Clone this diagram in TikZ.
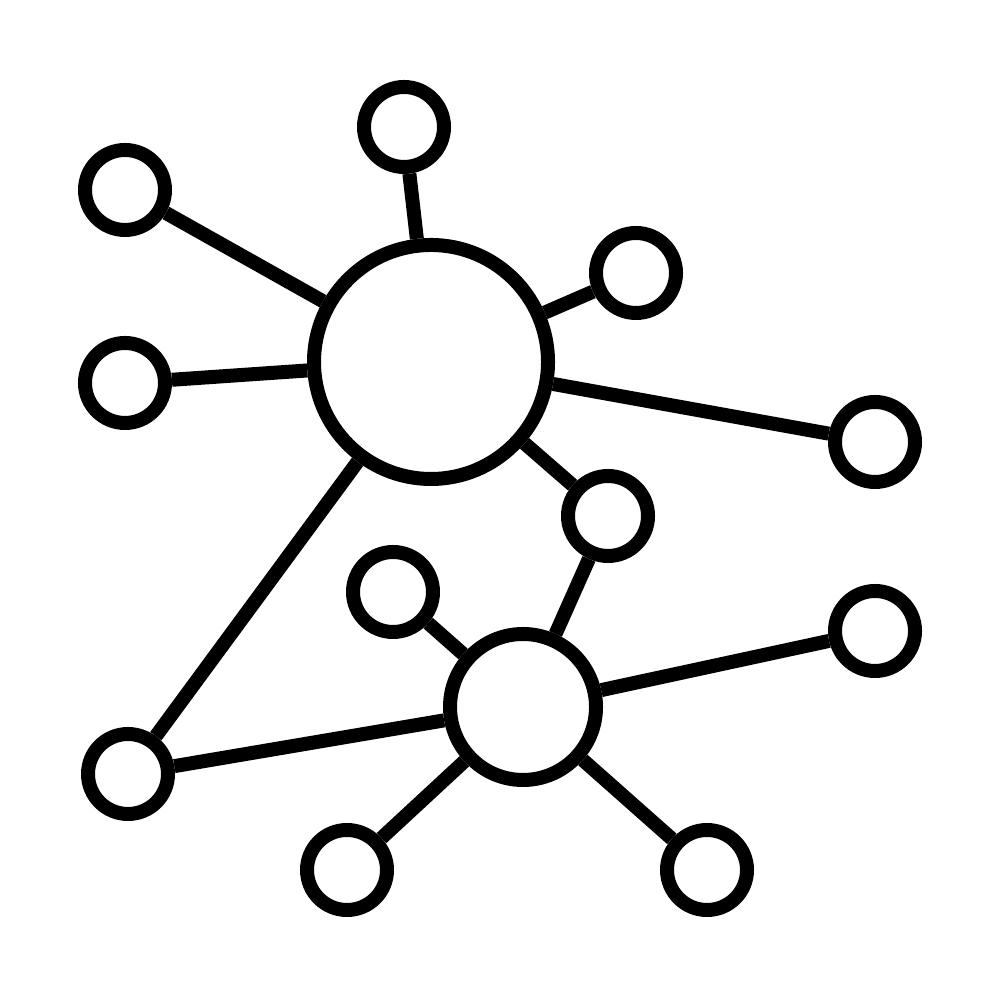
\documentclass[tikz,border=0pt]{standalone}
\usepackage{tikz}
\usetikzlibrary{positioning}

\begin{document}
\begin{tikzpicture}[line width=0.14cm,
  hub/.style={draw, circle, inner sep=0pt, minimum size=2.34cm},
  subhub/.style={draw, circle, inner sep=0pt, minimum size=1.46cm},
  leaf/.style={draw, circle, inner sep=0pt, minimum size=0.8cm}]

\useasboundingbox (0,0) rectangle (10,10);

\node[hub] (main) at (4.31,6.38) {};
\node[subhub] (sub) at (5.23,2.93) {};

\node[leaf] (top) at (4.04,8.73) {};
\node[leaf] (topleft) at (1.25,8.10) {};
\node[leaf] (left) at (1.25,6.17) {};
\node[leaf] (topright) at (6.36,7.27) {};
\node[leaf] (right) at (8.75,5.58) {};
\node[leaf] (mid) at (6.08,4.84) {};
\node[leaf] (lowright) at (8.75,3.69) {};
\node[leaf] (lowleft) at (1.28,2.26) {};
\node[leaf] (inner) at (3.93,4.08) {};
\node[leaf] (bottom) at (3.47,1.30) {};
\node[leaf] (bottomright) at (7.07,1.30) {};

\draw (main) -- (top);
\draw (main) -- (topleft);
\draw (main) -- (left);
\draw (main) -- (topright);
\draw (main) -- (right);
\draw (main) -- (mid);
\draw (main) -- (lowleft);

\draw (sub) -- (mid);
\draw (sub) -- (inner);
\draw (sub) -- (lowright);
\draw (sub) -- (lowleft);
\draw (sub) -- (bottom);
\draw (sub) -- (bottomright);

\end{tikzpicture}
\end{document}
